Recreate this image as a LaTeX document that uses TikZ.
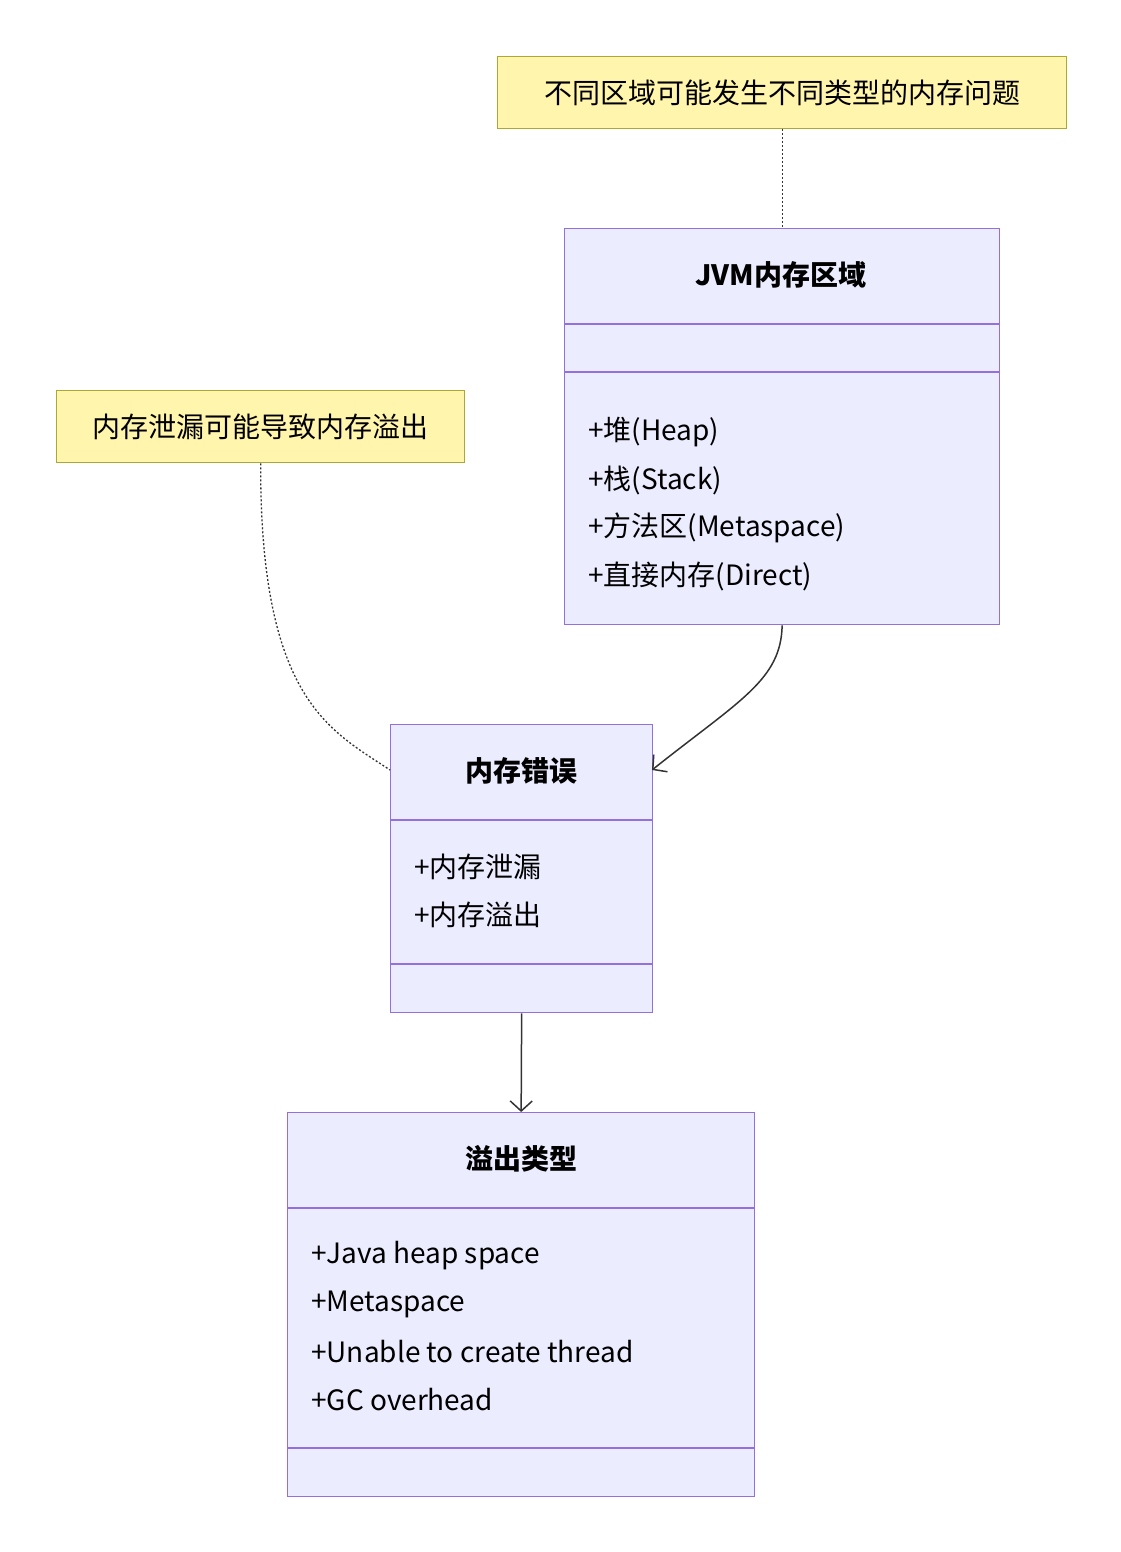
\documentclass[tikz,border=0pt]{standalone}
\usepackage{fontspec}
\setmainfont{Noto Sans CJK SC}
\usetikzlibrary{arrows.meta}
\definecolor{boxfill}{HTML}{ECECFF}
\definecolor{boxline}{HTML}{9370DB}
\definecolor{notefill}{HTML}{FFF5AD}
\definecolor{noteline}{HTML}{AAAA33}
\definecolor{edge}{HTML}{333333}
\begin{document}
\begin{tikzpicture}[x=1pt,y=-1pt,
  box/.style={draw=boxline,fill=boxfill,line width=1.3pt,anchor=north west,inner sep=0pt},
  note/.style={draw=noteline,fill=notefill,line width=1.3pt,anchor=north west,inner sep=0pt,font=\fontsize{28}{34}\selectfont},
  title/.style={font=\fontsize{28}{34}\selectfont\bfseries},
  mem/.style={anchor=west,font=\fontsize{28}{34}\selectfont,inner sep=0pt},
  div/.style={draw=boxline,line width=1.3pt},
  dep/.style={draw=edge,line width=1.3pt,dash pattern=on 2pt off 2pt},
  arr/.style={draw=edge,line width=1.5pt,-{Straight Barb[length=10pt,width=22pt,line width=1.5pt]}}]
\useasboundingbox (0,0) rectangle (1121,1552);
% notes
\node[note,minimum width=569pt,minimum height=72pt] (n1) at (497,56) {};
\node[font=\fontsize{28}{34}\selectfont] at (n1.center) {不同区域可能发生不同类型的内存问题};
\node[note,minimum width=408pt,minimum height=72pt] (n2) at (56,390) {};
\node[font=\fontsize{28}{34}\selectfont] at (n2.center) {内存泄漏可能导致内存溢出};
% JVM
\node[box,minimum width=435pt,minimum height=396pt] (jvm) at (564,228) {};
\draw[div] (564,324) -- (999,324); \draw[div] (564,372) -- (999,372);
\node[title] at (781,275) {JVM内存区域};
\node[mem] at (588,432) {+堆(Heap)};
\node[mem] at (588,480) {+栈(Stack)};
\node[mem] at (588,528) {+方法区(Metaspace)};
\node[mem] at (588,576) {+直接内存(Direct)};
% error
\node[box,minimum width=262pt,minimum height=288pt] (err) at (390,724) {};
\draw[div] (390,820) -- (652,820); \draw[div] (390,964) -- (652,964);
\node[title] at (521,771) {内存错误};
\node[mem] at (414,867) {+内存泄漏};
\node[mem] at (414,915) {+内存溢出};
% overflow
\node[box,minimum width=467pt,minimum height=384pt] (ovf) at (287,1112) {};
\draw[div] (287,1208) -- (754,1208); \draw[div] (287,1448) -- (754,1448);
\node[title] at (521,1159) {溢出类型};
\node[mem] at (311,1256) {+Java heap space};
\node[mem] at (311,1304) {+Metaspace};
\node[mem] at (311,1352) {+Unable to create thread};
\node[mem] at (311,1400) {+GC overhead};
% edges
\draw[dep] (n1.south) -- (jvm.north);
\draw[dep] (n2.south) .. controls (260,700) and (330,730) .. (err.north west |- 0,770);
\draw[arr] (jvm.south) .. controls (781,680) and (740,700) .. (652,770);
\draw[arr] (err.south) -- (ovf.north);
\end{tikzpicture}
\end{document}
